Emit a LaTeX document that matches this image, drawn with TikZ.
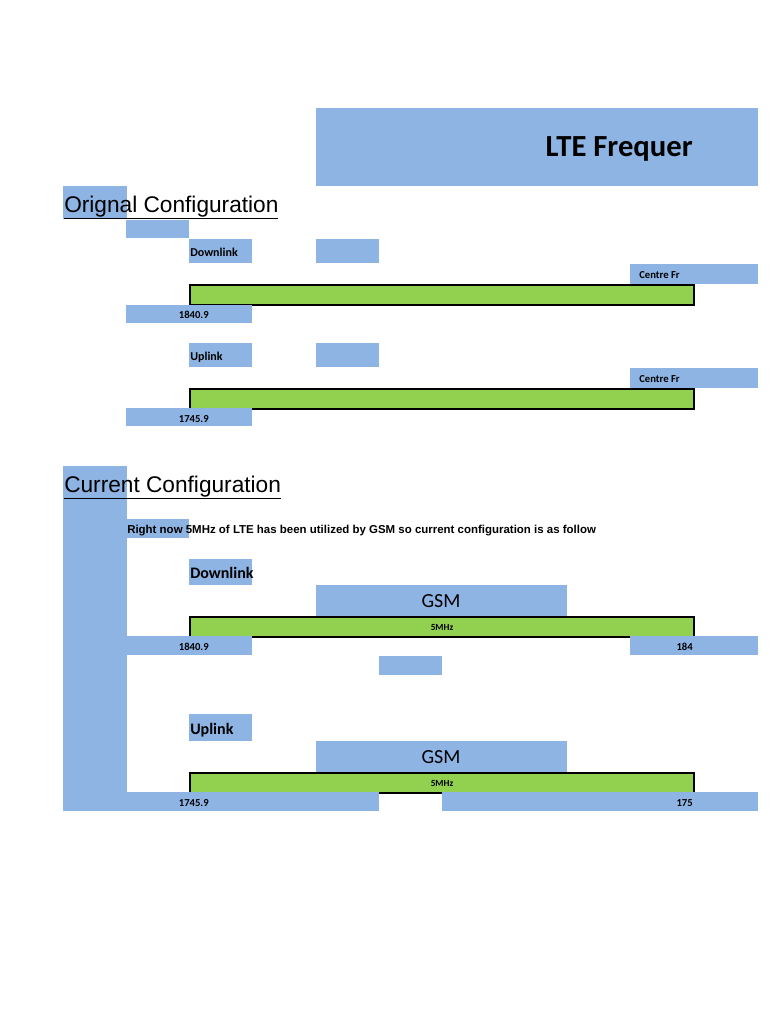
\documentclass[tikz,border=0pt]{standalone}
\usepackage{fontspec}
\setmainfont{Liberation Sans}
\newfontfamily\calfont{Carlito}
\definecolor{cellblue}{HTML}{8EB4E3}
\definecolor{bandgreen}{HTML}{92D050}
\tikzset{
	cell/.style={fill=cellblue, draw=none},
	band/.style={fill=bandgreen, draw=black, line width=1.5pt},
	lbl/.style={inner sep=0pt, font=\calfont\bfseries\fontsize{9}{10}\selectfont},
	head/.style={inner sep=0pt, anchor=base west, font=\fontsize{17}{20}\selectfont}
}
\begin{document}
\begin{tikzpicture}[x=0.75pt,y=-0.75pt]
\useasboundingbox[fill=white] (0,0) rectangle (768,1024);

% title
\fill[cell] (316,108) rectangle (758,186);
\node[inner sep=0pt, anchor=base east, font=\calfont\bfseries\fontsize{23}{26}\selectfont] (title) at (693,156) {LTE Frequer};

% original configuration
\fill[cell] (63,186) rectangle (127,219);
\fill[cell] (126,220) rectangle (189,238);
\node[head] (orig) at (64,212) {\underline{Orignal Configuration}};

\fill[cell] (189,239) rectangle (252,263);
\fill[cell] (316,239) rectangle (379,263);
\node[lbl, anchor=base west] (dl) at (190,256) {Downlink};
\fill[cell] (630,264) rectangle (758,284);
\node[lbl, anchor=base west, font=\calfont\bfseries\fontsize{8}{9}\selectfont] (cfd) at (639,278) {Centre Fr};
\node[band, minimum width=378pt, minimum height=15pt, anchor=north west, inner sep=0pt] (bandd) at (189,284) {};
\fill[cell] (126,305) rectangle (252,323);
\node[lbl, anchor=base east, font=\calfont\bfseries\fontsize{8}{9}\selectfont] (fd) at (209,318) {1840.9};

\fill[cell] (189,343) rectangle (252,367);
\fill[cell] (316,343) rectangle (379,367);
\node[lbl, anchor=base west] (ul) at (190,360) {Uplink};
\fill[cell] (630,368) rectangle (758,388);
\node[lbl, anchor=base west, font=\calfont\bfseries\fontsize{8}{9}\selectfont] (cfu) at (639,382) {Centre Fr};
\node[band, minimum width=378pt, minimum height=15pt, anchor=north west, inner sep=0pt] (bandu) at (189,388) {};
\fill[cell] (126,408) rectangle (252,426);
\node[lbl, anchor=base east, font=\calfont\bfseries\fontsize{8}{9}\selectfont] (fu) at (209,422) {1745.9};

% current configuration
\fill[cell] (63,466) rectangle (127,811);
\node[head] (cur) at (64,492) {\underline{Current Configuration}};
\fill[cell] (126,519) rectangle (189,538);
\node[inner sep=0pt, anchor=base west, font=\bfseries\fontsize{8.6}{10}\selectfont] (note) at (127,533) {Right now 5MHz of LTE has been utilized by GSM so current configuration is as follow};

\fill[cell] (189,559) rectangle (252,585);
\node[lbl, anchor=base west, font=\calfont\bfseries\fontsize{12}{14}\selectfont] (dl2) at (190,578) {Downlink};
\fill[cell] (316,585) rectangle (567,616);
\node[inner sep=0pt, font=\calfont\fontsize{15}{18}\selectfont] (gsmd) at (441,601) {GSM};
\node[band, minimum width=378pt, minimum height=15pt, anchor=north west, inner sep=0pt, font=\calfont\bfseries\fontsize{7}{8}\selectfont] (band2d) at (189,616) {5MHz};
\fill[cell] (126,636) rectangle (252,655);
\fill[cell] (630,636) rectangle (758,655);
\node[lbl, anchor=base east, font=\calfont\bfseries\fontsize{8}{9}\selectfont] (fd2) at (209,650) {1840.9};
\node[lbl, anchor=base east, font=\calfont\bfseries\fontsize{8}{9}\selectfont] (td2) at (693,650) {184};
\fill[cell] (379,656) rectangle (442,675);

\fill[cell] (189,714) rectangle (252,741);
\node[lbl, anchor=base west, font=\calfont\bfseries\fontsize{12}{14}\selectfont] (ul2) at (190,734) {Uplink};
\fill[cell] (316,741) rectangle (567,772);
\node[inner sep=0pt, font=\calfont\fontsize{15}{18}\selectfont] (gsmu) at (441,757) {GSM};
\node[band, minimum width=378pt, minimum height=15pt, anchor=north west, inner sep=0pt, font=\calfont\bfseries\fontsize{7}{8}\selectfont] (band2u) at (189,772) {5MHz};
\fill[cell] (63,792) rectangle (379,811);
\fill[cell] (442,792) rectangle (758,811);
\node[lbl, anchor=base east, font=\calfont\bfseries\fontsize{8}{9}\selectfont] (fu2) at (209,806) {1745.9};
\node[lbl, anchor=base east, font=\calfont\bfseries\fontsize{8}{9}\selectfont] (tu2) at (693,806) {175};
\end{tikzpicture}
\end{document}
